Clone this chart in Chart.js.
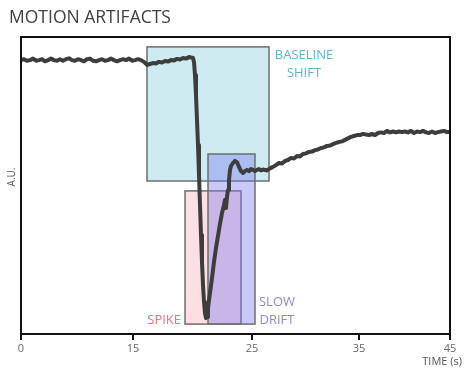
<!DOCTYPE html>
<html><head><meta charset="utf-8">
<script src="https://cdn.jsdelivr.net/npm/chart.js@4/dist/chart.umd.min.js"></script>
<style>html,body{margin:0;padding:0;background:#fff}#wrap{width:474px;height:372px}</style>
</head><body><div id="wrap"><canvas id="c" width="474" height="372"></canvas></div>
<script>
// ---- data ----
const sampleIdx = [
0,1,2,3,4,5,6,7,8,9,10,11,12,13,14,15,16,17,18,19,20,21,22,23,24,25,26,27,28,29,30,31,32,33,34,35,36,37,38,39,40,
41,42,43,44,45,46,47,48,49,50,51,52,53,54,55,56,
56.67,57.33,57.67,58,58.33,58.67,59,59.33,59.67,60,60.33,60.67,61,61.33,61.67,62,62.33,63,63.67,64.33,65,65.67,66.33,67,67.67,68,68.33,68.67,69,69.33,69.67,70,70.67,71.33,72,72.67,73.33,74,74.67,75.33,76,76.67,77.33,78,78.67,79.33,80,80.67,81.33,82,82.67,
83,84,85,86,87,88,89,90,91,92,93,94,95,96,97,98,99,100,101,102,103,104,105,106,107,108,109,110,111,112,113,114,115,116,117,118,119,120,121,122,123,124,125,126,127,128,129,130,131,132,133,134,135,136,137,138,139,140,141,142,143];
const signalAU = [
91.3,91.6,91.1,91.3,91.8,91.1,91.3,91.6,90.9,91.3,91.8,91.3,91.1,91.6,91.1,91.6,91.9,91.3,91.1,91.6,91.3,90.9,91.6,91.8,91.1,90.9,91.3,91.6,91.1,91.3,91.8,91.3,90.9,91.3,91.6,91.3,91.8,91.1,91.3,91.6,91.3,
90.7,89.7,90.0,90.3,90.2,90.7,90.5,91.0,90.8,91.3,91.2,91.7,91.5,92.0,91.8,92.3,
92.2,92.0,90.7,86.3,79.7,71.3,63.0,53.0,43.0,33.0,24.0,16.3,10.7,7.0,5.3,5.7,8.7,13.7,18.7,24.0,28.7,32.7,36.7,40.3,43.0,44.7,42.0,45.7,48.0,51.3,54.7,56.0,57.0,57.7,57.3,55.7,54.3,53.7,54.3,54.7,54.3,55.0,54.7,54.3,54.7,55.0,54.5,54.8,54.7,54.5,55.0,
55.2,55.7,56.3,57.0,56.8,57.7,58.0,58.7,58.5,59.3,59.2,60.0,60.2,60.7,60.8,61.3,61.5,62.0,62.2,62.7,62.8,63.3,63.7,64.0,64.2,64.7,65.2,65.7,66.0,66.3,66.3,66.7,66.5,66.3,66.7,66.3,67.0,67.2,67.0,67.7,67.2,67.5,67.2,67.5,67.3,67.5,67.2,67.7,67.0,67.5,67.3,67.7,67.2,67.0,67.5,67.0,67.3,67.5,67.7,67.3,67.3];
const tickPositions = [0, 37.33, 77, 112.67, 143];
const tickLabels = ['0', '15', '25', '35', '45'];
const regionNames = ['BASELINE SHIFT', 'SPIKE', 'SLOW DRIFT'];
const regionStart = [42, 54.67, 62.33];
const regionEnd   = [82.67, 73.33, 78];
const regionLow   = [51, 3.3, 3.3];
const regionHigh  = [95.7, 47.7, 60];

const regionFill = ['rgba(168,218,232,0.55)', 'rgba(246,170,180,0.38)', 'rgba(120,120,240,0.40)'];
const regionText = ['#58b6cc', '#ee6f80', '#8d87da'];

const boxesPlugin = {
  id: 'boxes',
  beforeDatasetsDraw(chart) {
    const {ctx, scales: {x, y}} = chart;
    ctx.save();
    for (let i = 0; i < regionNames.length; i++) {
      const l = x.getPixelForValue(regionStart[i]), r = x.getPixelForValue(regionEnd[i]);
      const t = y.getPixelForValue(regionHigh[i]), b = y.getPixelForValue(regionLow[i]);
      ctx.fillStyle = regionFill[i];
      ctx.fillRect(l, t, r - l, b - t);
      ctx.strokeStyle = '#6e6e6e';
      ctx.lineWidth = 1.5;
      ctx.strokeRect(l, t, r - l, b - t);
    }
    ctx.restore();
  },
  afterDraw(chart) {
    const {ctx, chartArea: a, scales: {x, y}} = chart;
    ctx.save();
    // frame
    ctx.strokeStyle = '#111';
    ctx.lineWidth = 2;
    ctx.strokeRect(a.left, a.top, a.right - a.left, a.bottom - a.top);
    // title
    ctx.fillStyle = '#404040';
    ctx.font = '17.5px "Open Sans"';
    ctx.textBaseline = 'alphabetic';
    ctx.textAlign = 'left';
    ctx.fillText('MOTION ARTIFACTS', 9, 23);
    // x title
    ctx.fillStyle = '#555';
    ctx.font = '11px "Open Sans"';
    ctx.textAlign = 'right';
    ctx.fillText('TIME (s)', 462, 365);
    // y title
    ctx.save();
    ctx.translate(15, 177);
    ctx.rotate(-Math.PI / 2);
    ctx.textAlign = 'center';
    ctx.font = '10px "Open Sans"';
    ctx.fillText('A.U.', 0, 0);
    ctx.restore();
    // region labels
    ctx.font = '13px "Open Sans"';
    let r0 = x.getPixelForValue(regionEnd[0]), t0 = y.getPixelForValue(regionHigh[0]);
    ctx.fillStyle = regionText[0];
    ctx.textAlign = 'center';
    ctx.fillText('BASELINE', r0 + 35, t0 + 12);
    ctx.fillText('SHIFT', r0 + 35, t0 + 30);
    let l1 = x.getPixelForValue(regionStart[1]), b1 = y.getPixelForValue(regionLow[1]);
    ctx.fillStyle = regionText[1];
    ctx.textAlign = 'right';
    ctx.fillText('SPIKE', l1 - 4, b1);
    let r2 = x.getPixelForValue(regionEnd[2]), b2 = y.getPixelForValue(regionLow[2]);
    ctx.fillStyle = regionText[2];
    ctx.textAlign = 'center';
    ctx.fillText('SLOW', r2 + 22, b2 - 18);
    ctx.fillText('DRIFT', r2 + 22, b2);
    ctx.restore();
  }
};

new Chart(document.getElementById('c'), {
  type: 'line',
  data: {
    datasets: [{
      data: sampleIdx.map((v, i) => ({x: v, y: signalAU[i]})),
      borderColor: '#3d3d3d',
      borderWidth: 4,
      pointRadius: 0,
      tension: 0,
      fill: false,
      borderJoinStyle: 'round',
      borderCapStyle: 'round'
    }]
  },
  options: {
    responsive: false,
    animation: false,
    events: [],
    layout: {padding: {top: 37, right: 24, left: 0, bottom: 0}},
    plugins: {legend: {display: false}, title: {display: false}, tooltip: {enabled: false}},
    scales: {
      x: {
        type: 'linear', min: 0, max: 143,
        afterBuildTicks: s => { s.ticks = tickPositions.map(v => ({value: v})); },
        afterFit: s => { s.height = 38; },
        grid: {display: true, drawOnChartArea: false, drawTicks: true, tickLength: 6, color: '#111', lineWidth: 2},
        border: {display: false},
        ticks: {autoSkip: false, maxRotation: 0, padding: 2, color: '#666', font: {family: 'Open Sans', size: 11},
          callback: (v, i) => tickLabels[i]}
      },
      y: {
        type: 'linear', min: 0, max: 99,
        afterFit: s => { s.width = 21; },
        grid: {display: false},
        border: {display: false},
        ticks: {display: false}
      }
    }
  },
  plugins: [boxesPlugin]
});
</script>
</body></html>
